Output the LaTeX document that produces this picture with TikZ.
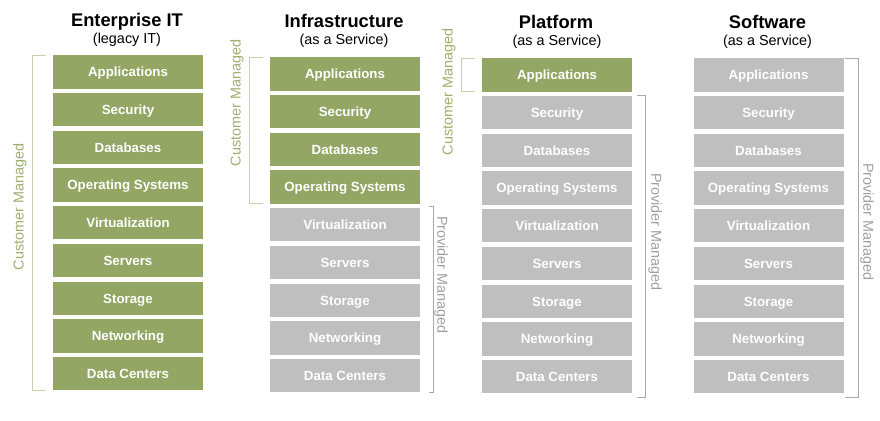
\documentclass[tikz,border=0pt]{standalone}
\usepackage{fontspec}
\setmainfont{Liberation Sans}
\definecolor{layergreen}{HTML}{94A664}
\definecolor{layergray}{HTML}{BFBFBF}
\definecolor{custline}{HTML}{C6D0AE}
\definecolor{custtext}{HTML}{9CB06E}
\definecolor{provline}{HTML}{A8A8A8}
\definecolor{provtext}{HTML}{A0A0A0}
\tikzset{
  layer/.style={minimum width=150pt, minimum height=33.3pt, inner sep=0pt, text=white,
    text height=9.6pt, text depth=0pt, font=\fontsize{13.3}{15}\selectfont\bfseries},
  cust/.style={layer, fill=layergreen},
  prov/.style={layer, fill=layergray},
  title/.style={anchor=base, font=\fontsize{18.3}{20}\selectfont\bfseries, inner sep=0pt},
  subtitle/.style={anchor=base, font=\fontsize{14.4}{16}\selectfont, inner sep=0pt},
  cbrace/.style={custline, line width=1pt},
  pbrace/.style={provline, line width=0.8pt},
  clabel/.style={text=custtext, font=\fontsize{14.4}{16}\selectfont, inner sep=0pt},
  plabel/.style={text=provtext, font=\fontsize{14.4}{16}\selectfont, inner sep=0pt}
}
% prefix, x, top y, customer managed layers
\newcommand\layerstack[4]{%
  \foreach \lbl [count=\i] in {Applications,Security,Databases,Operating Systems,Virtualization,Servers,Storage,Networking,Data Centers}{
    \ifnum\i>#4 \def\sty{prov}\else\def\sty{cust}\fi
    \node[\sty] (#1\i) at (#2,{#3+(\i-1)*37.7}) {\lbl};
  }}
\begin{document}
\begin{tikzpicture}[x=1pt, y=-1pt]
  \useasboundingbox (0,0) rectangle (880,420);
  % headings
  \node[title] (t1) at (127,27) {Enterprise IT};
  \node[subtitle] (s1) at (127,43.5) {(legacy IT)};
  \node[title] (t2) at (344,27.5) {Infrastructure};
  \node[subtitle] (s2) at (344,45) {(as a Service)};
  \node[title] (t3) at (556,29) {Platform};
  \node[subtitle] (s3) at (557,46) {(as a Service)};
  \node[title] (t4) at (767.5,29) {Software};
  \node[subtitle] (s4) at (767.5,46) {(as a Service)};
  % stacks
  \layerstack{e}{128}{72}{9}
  \layerstack{i}{345}{74}{4}
  \layerstack{p}{557}{75}{1}
  \layerstack{s}{768.5}{75}{0}
  % brackets
  \draw[cbrace] ([xshift=-7pt]e1.north west) -| ([xshift=-20pt]e9.south west) -- ([xshift=-7pt]e9.south west);
  \draw[cbrace] ([xshift=-7pt]i1.north west) -| ([xshift=-20pt]i4.south west) -- ([xshift=-7pt]i4.south west);
  \draw[pbrace] ([xshift=9pt,yshift=2pt]i5.north east) -| ([xshift=13pt]i9.south east) -- ([xshift=9pt]i9.south east);
  \draw[cbrace] ([xshift=-7pt]p1.north west) -| ([xshift=-20pt]p1.south west) -- ([xshift=-7pt]p1.south west);
  \draw[pbrace] ([xshift=5pt]p2.north east) -| ([xshift=13pt,yshift=-4pt]p9.south east) -- ([xshift=5pt,yshift=-4pt]p9.south east);
  \draw[pbrace] ([xshift=1.5pt]s1.north east) -| ([xshift=14.5pt,yshift=-4pt]s9.south east) -- ([xshift=1.5pt,yshift=-4pt]s9.south east);
  % bracket labels
  \node[clabel, rotate=90] (m1) at (20,207) {Customer Managed};
  \node[clabel, rotate=90] (m2) at (237,103) {Customer Managed};
  \node[plabel, rotate=-90] (m3) at (441,275) {Provider Managed};
  \node[clabel, rotate=90] (m4) at (449,92) {Customer Managed};
  \node[plabel, rotate=-90] (m5) at (655,232) {Provider Managed};
  \node[plabel, rotate=-90] (m6) at (867,222) {Provider Managed};
\end{tikzpicture}
\end{document}
